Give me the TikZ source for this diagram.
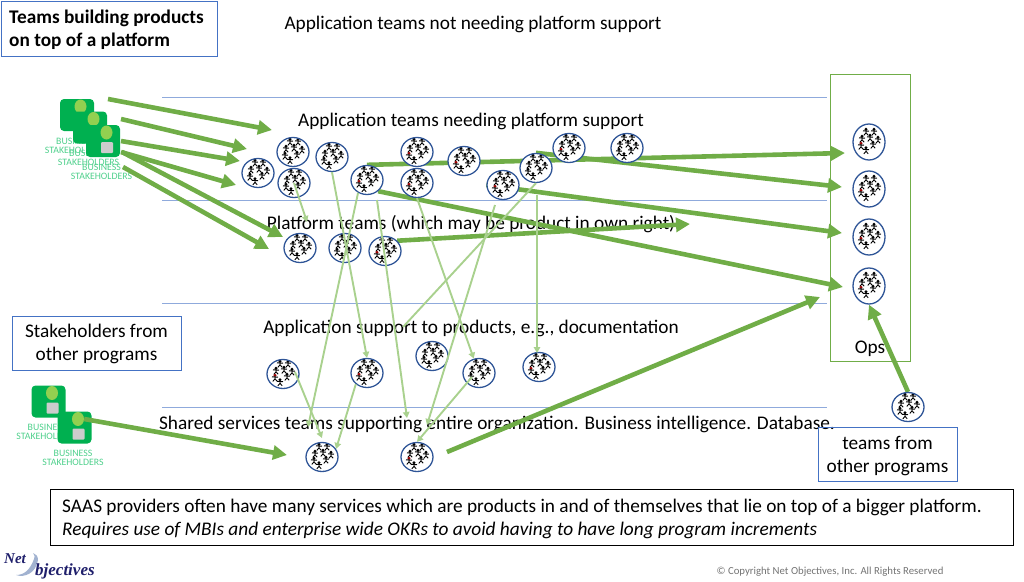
\documentclass[tikz,border=0pt]{standalone}
\usepackage{fontspec}
\setmainfont{Carlito}
\newfontfamily\logofont{Liberation Serif}
\usetikzlibrary{arrows.meta,shapes.geometric,backgrounds}
\definecolor{teamblue}{HTML}{2F5597}
\definecolor{sepblue}{HTML}{8FAADC}
\definecolor{boxblue}{HTML}{4472C4}
\definecolor{thickgreen}{HTML}{70AD47}
\definecolor{thingreen}{HTML}{A9D18E}
\definecolor{stakegreen}{HTML}{00B050}
\definecolor{stakehead}{HTML}{92D050}
\definecolor{staketext}{HTML}{4FD08C}
\definecolor{logoblue}{HTML}{1F1F6B}
\def\bodyfont{\fontsize{19.3}{23}\selectfont}
\def\stickfigs#1{%
	\begin{scope}[shift={(path picture bounding box.center)}]
		\foreach \fx/\fy/\fc in {-3/-10/black,5/-10/black,-7/-3/black,1/-4/black,9/-2/black,4/3/black,-8/4/#1,-3/8.5/black}{
			\fill [\fc] (\fx,\fy-2.7) circle (1.6);
			\draw [black,line width=.9pt] (\fx,\fy-2) -- (\fx,\fy+.8) -- (\fx-2.2,\fy+3.4) (\fx,\fy+.8) -- (\fx+2.2,\fy+3.2)
				(\fx-3,\fy-1.2) -- (\fx+3,\fy-.8);
		}
	\end{scope}}

\begin{document}
\begin{tikzpicture}[
			x=1pt,y=-1pt,
			team/.style={ellipse,draw=teamblue,line width=1.3pt,fill=white,inner sep=0pt,minimum width=32pt,minimum height=29pt,path picture={\stickfigs{#1}}},
			team/.default=black,
			thick arrow/.style={draw=thickgreen,line width=4.6pt,-{Triangle[length=14pt,width=14pt]}},
			thin arrow/.style={draw=thingreen,line width=1.9pt,-{Triangle[length=6pt,width=6.5pt]}},
			thin line/.style={draw=thingreen,line width=1.9pt},
			sep/.style={line width=1pt,sepblue},
			lab/.style={font=\bodyfont,inner sep=0pt,align=center},
			infobox/.style={draw=boxblue,line width=1pt,inner sep=0pt},
			stake/.style={fill=stakegreen,rounded corners=4pt,minimum width=34pt,minimum height=32pt,inner sep=0pt},
			stakehd/.style={ellipse,fill=stakehead,minimum width=12pt,minimum height=14pt,inner sep=0pt},
			stakebody/.style={fill=black!20,rounded corners=1pt,minimum width=12pt,minimum height=11pt,inner sep=0pt},
			stakelab/.style={text=staketext,align=center,font=\fontsize{9.8}{9}\selectfont,inner sep=0pt}]
			\useasboundingbox (0,0) rectangle (1024,581);
			\foreach \n/\x/\y/\c in {a1/293/152/black,a2/258/173/black,a3/294/183/black,a4/332/157/black,a5/367/180/red!60!black,
				a6/417/152/red!60!black,a7/417/183/red!60!black,a8/464/161/red!60!black,a9/503/185/red!60!black,a10/536/168/black,
				a11/569/148/red!60!black,a12/627/148/black,p1/300/248/black,p2/345/248/black,p3/385/251/red!60!black,
				v1/283/374/red!60!black,v2/367/373/red!60!black,v3/432/356/black,v4/479/373/black,v5/539/367/red!60!black,
				s1/322/457/black,s2/417/457/red!60!black,o1/908/407/black}
				\node [team=\c] (\n) at (\x,\y) {};
			\foreach \n/\y in {f1/142,f2/189,f3/237,f4/286}
				\node [team=red!60!black,minimum height=36pt] (\n) at (869,\y) {};
			\begin{scope}[on background layer]
				\foreach \y in {97,200,303,407}
					\draw [sep] (162,\y) -- (827,\y);
				\node [lab] (notneeding) at (473,24) {Application teams not needing platform support};
				\node [lab] (needing) at (471,121) {Application teams needing platform support};
				\node [lab] (platform) at (471,224) {Platform teams (which may be product in own right)};
				\node [lab] (support) at (471,328) {Application support to products, e.g., documentation};
				\node [lab] (shared) at (497,424) {Shared services teams supporting entire organization. Business intelligence. Database.};
				\foreach \n/\x/\y in {sa/77/115,sb/90/127.5,sc/103/141,sd/48.5/401.5,se/74.5/427.5}{
					\node [stake] (\n) at (\x,\y) {};
					\node [stakehd] (\n h) at (\x+3.5,\y-8.5) {};
					\node [stakebody] (\n b) at (\x+4,\y+6.5) {};
					\node [stakelab] (\n l) at (\x-1.5,\y+30.5) {BUSINESS\\STAKEHOLDERS};
				}
				\coordinate (r1) at (108,99); \coordinate (e1) at (272,130);
				\coordinate (r2) at (121,119); \coordinate (e2) at (247,149);
				\coordinate (r3) at (121,141); \coordinate (e3) at (240,161);
				\coordinate (r4) at (121,152); \coordinate (e4) at (236,185);
				\coordinate (r5) at (122,152); \coordinate (e5) at (283,237);
				\coordinate (r6) at (123,167); \coordinate (e6) at (269,249);
				\coordinate (e7) at (287,455);
				\coordinate (e8) at (845,153);
				\coordinate (e9) at (842,187);
				\coordinate (e10) at (842,233);
				\coordinate (e11) at (843,287);
				\coordinate (e12) at (690,224);
				\coordinate (r13) at (447,452); \coordinate (e13) at (820,297);
				\foreach \a/\b in {r1/e1,r2/e2,r3/e3,r4/e4,r5/e5,r6/e6,seh.east/e7,a5.north/e8,a10.north/e9,a9.west/e10,a5.-45/e11,p3.40/e12,r13/e13,o1.north/f4.south}
					\draw [thick arrow] (\a) -- (\b);
			\end{scope}
			\coordinate (u1) at (307,222);
			\coordinate (u3) at (308,427);
			\coordinate (k4) at (377,200); \coordinate (u4) at (407,418);
			\coordinate (u6) at (403,327);
			\coordinate (k7) at (495,205); \coordinate (u7) at (427,425);
			\coordinate (k8) at (537,195); \coordinate (u8) at (537,353);
			\coordinate (k9) at (295,372); \coordinate (u9) at (322,438);
			\coordinate (k11) at (472,377);
			\foreach \a/\b in {a3.center/u1,a4.south/v2.north,a5.-125/u3,k4/u4,a7.south/v4.110,k7/u7,k8/u8,k9/u9,v2.-135/s1.30,k11/s2.north}
				\draw [thin arrow] (\a) -- (\b);
			\draw [thin line] (a10.south) -- (u6);
			\node [draw=thickgreen,line width=1pt,minimum width=80pt,minimum height=287pt,inner sep=0pt] (opsbox) at (870,217.5) {};
			\node [lab] (ops) at (870,349) {Ops};
			\node [infobox,minimum width=216pt,minimum height=55pt] (titlebox) at (109,28.5) {};
			\node [lab,anchor=west,align=left,font=\bfseries\bodyfont] (titletext) at (9,30) {Teams building products\\on top of a platform};
			\node [infobox,minimum width=169pt,minimum height=54pt] (otherbox) at (96.5,343) {};
			\node [lab] (othertext) at (96.5,344) {Stakeholders from\\other programs};
			\node [infobox,minimum width=139pt,minimum height=54pt] (teamsbox) at (887.5,454) {};
			\node [lab] (teamstext) at (887.5,456) {teams from\\other programs};
			\node [draw=black,line width=1pt,minimum width=963pt,minimum height=56pt,inner sep=0pt] (notebox) at (531.5,517) {};
			\node [lab,anchor=west] (note1) at (62,507) {SAAS providers often have many services which are products in and of themselves that lie on top of a bigger platform.};
			\node [lab,anchor=west] (note2) at (62,530) {\itshape Requires use of MBIs and enterprise wide OKRs to avoid having to have long program increments};
			\node [text=black!55,font=\fontsize{10.75}{12}\selectfont,inner sep=0pt] (copyright) at (830,572) {© Copyright Net Objectives, Inc. All Rights Reserved};
			\fill [teamblue!45] (34,559) .. controls (30,570) and (24,575) .. (16,575) .. controls (25,578) and (36,573) .. (38,560) .. controls (38,556) and (36,554) .. (33,553) .. controls (35,555) and (35,557) .. (34,559) -- cycle;
			\node [text=logoblue,font=\logofont\bfseries\itshape\fontsize{15}{16}\selectfont,inner sep=0pt,anchor=base west] (lognet) at (4,563) {Net};
			\node [text=logoblue,font=\logofont\bfseries\itshape\fontsize{17}{16}\selectfont,inner sep=0pt,anchor=base west] (logobj) at (35,575) {bjectives};
		\end{tikzpicture}
\end{document}
